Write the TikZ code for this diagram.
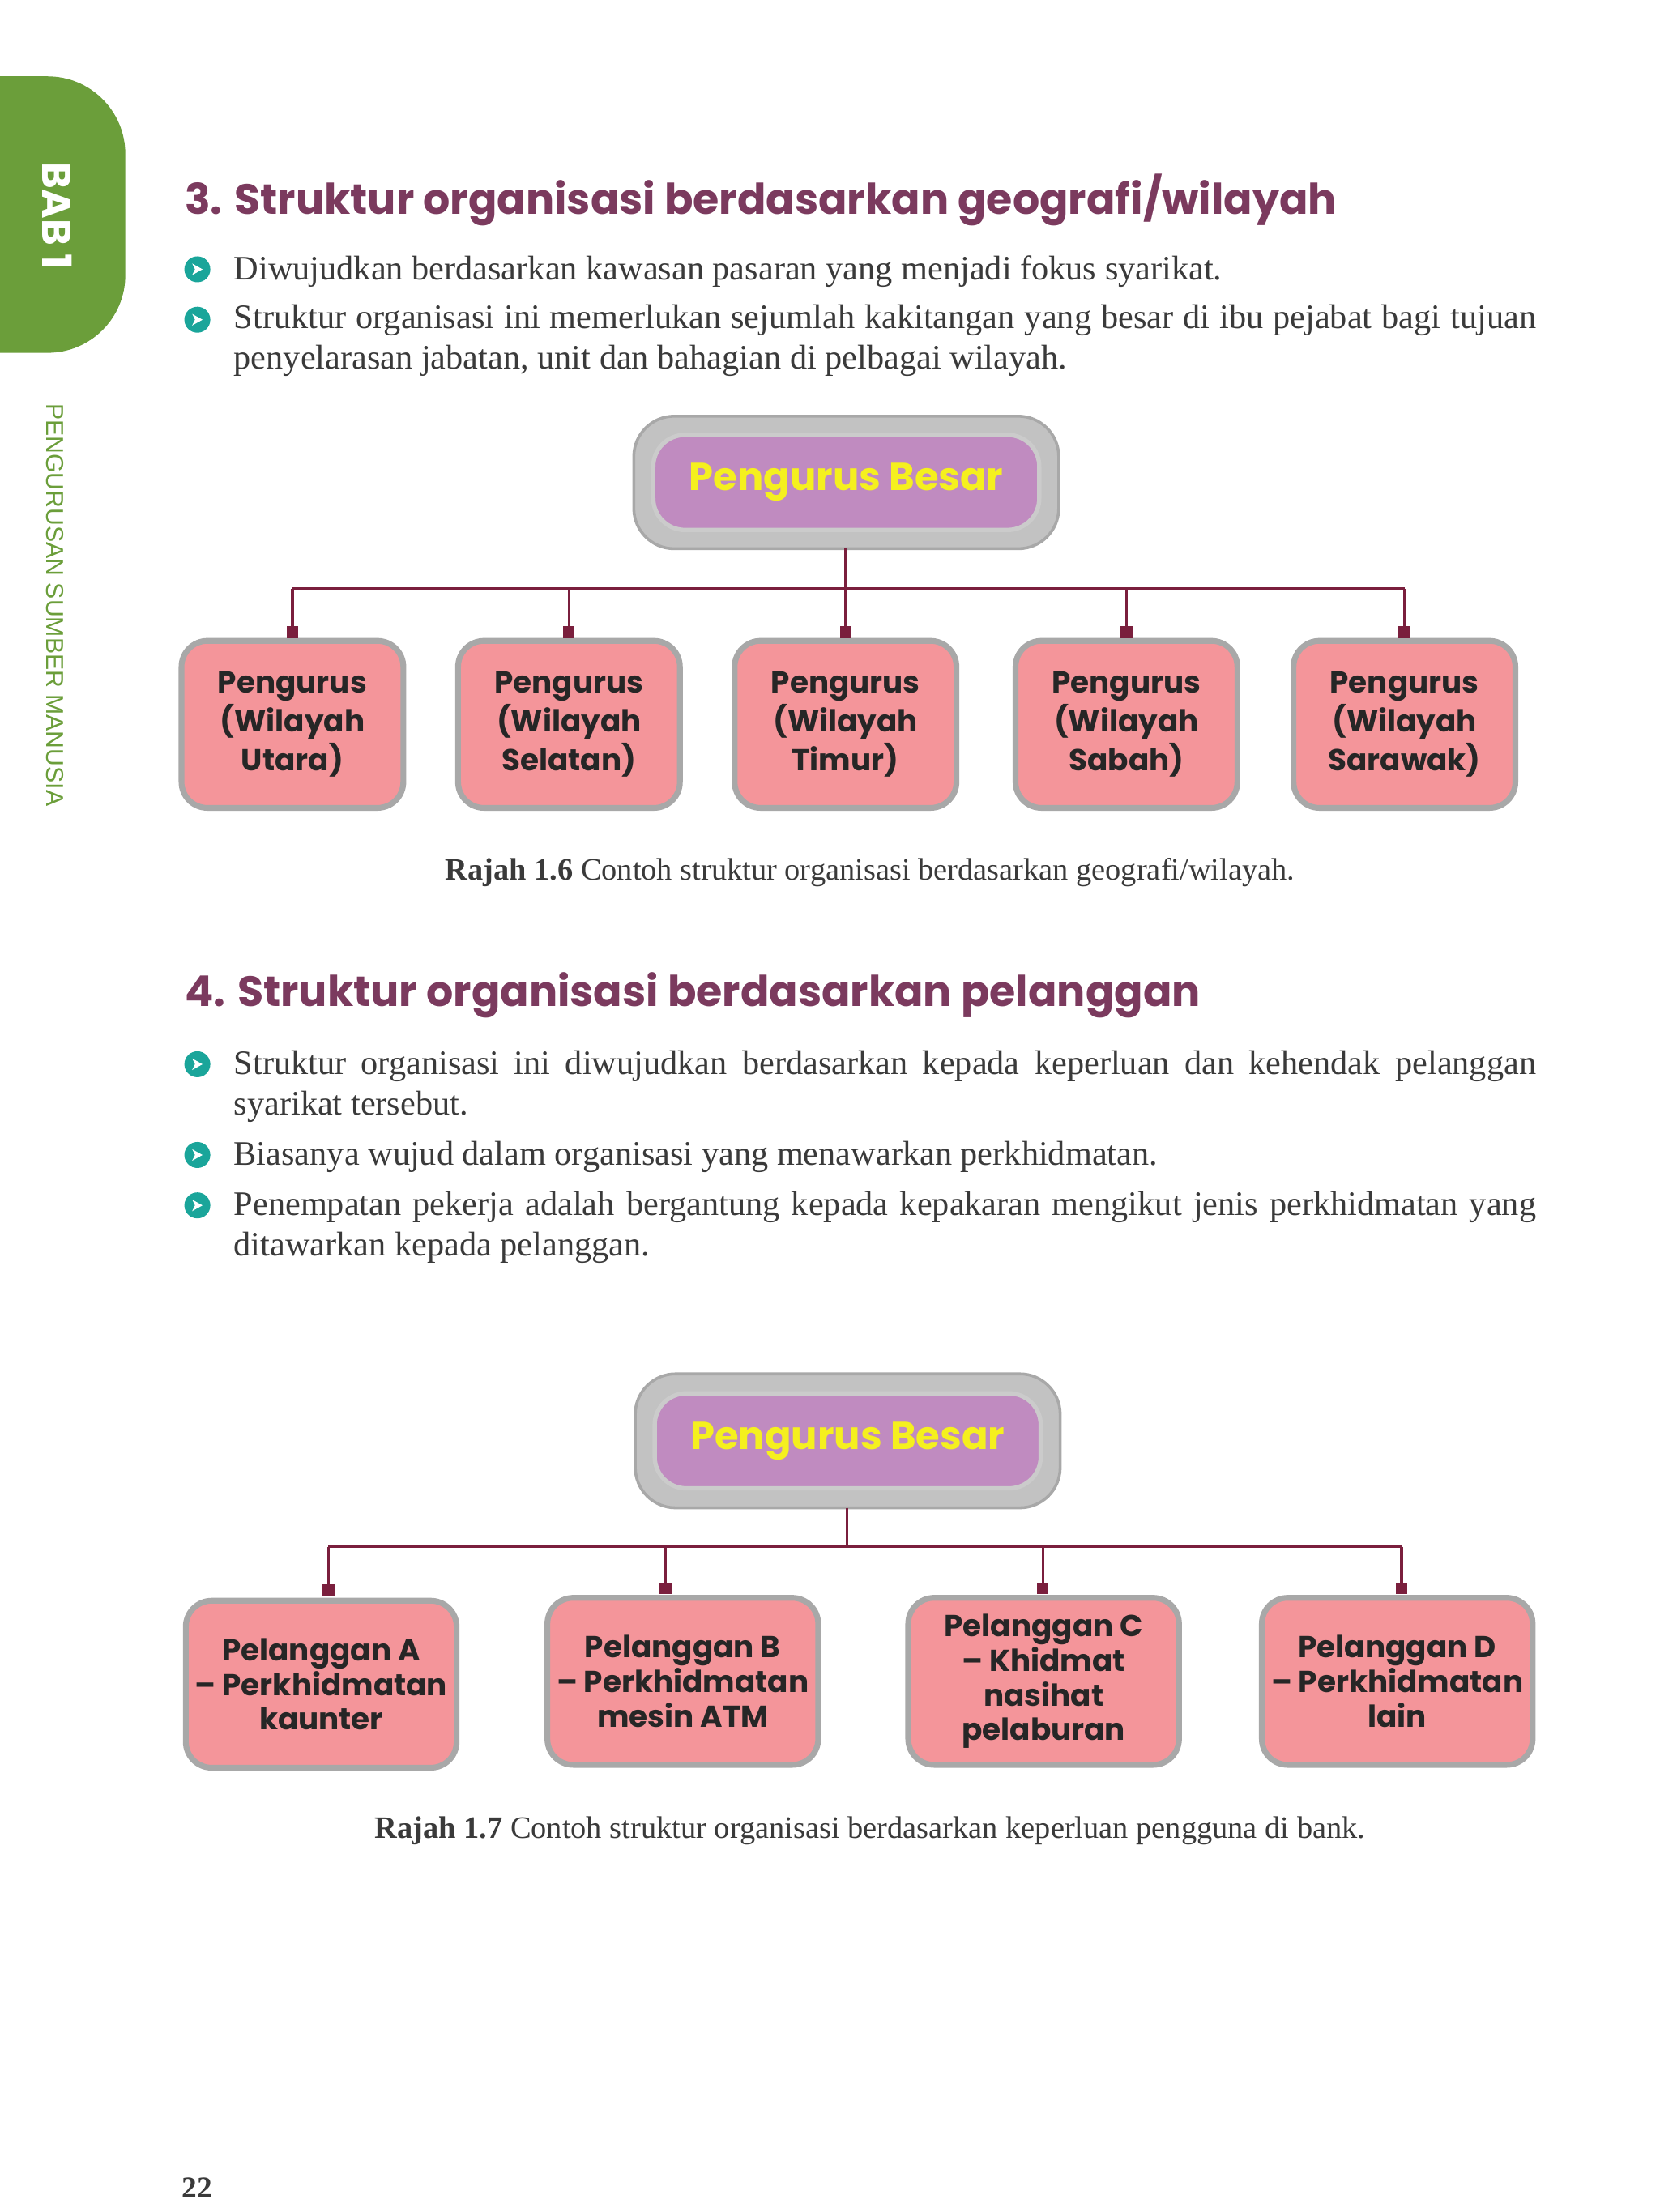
\documentclass[tikz,border=0pt]{standalone}
\usepackage{fontspec}
\setmainfont{Liberation Serif}
\newfontfamily\pop{Poppins}
\newfontfamily\sans{Liberation Sans}
\definecolor{grn}{HTML}{6B9E3A}
\definecolor{plum}{HTML}{7B3A5E}
\definecolor{tl}{HTML}{1AA59A}
\definecolor{pinkb}{HTML}{F4959A}
\definecolor{greyb}{HTML}{A8A8A8}
\definecolor{purp}{HTML}{C08BC0}
\definecolor{yel}{HTML}{F5F01E}
\definecolor{lnc}{HTML}{7A1F3D}
\definecolor{txt}{HTML}{3A3A3A}
\tikzset{
 x=0.5pt,y=-0.5pt,
 head/.style={anchor=west,font=\pop\bfseries\fontsize{14.7}{18}\selectfont,text=plum,inner sep=0},
 btxt/.style={anchor=north west,text width=452pt,align=justify,font=\fontsize{11.9}{14.2}\selectfont,text=txt,inner sep=0},
 bul/.style={circle,fill=tl,minimum size=9pt,inner sep=0},
 pink/.style={draw=greyb,line width=2pt,fill=pinkb,rounded corners=9pt,align=center,font=\pop\bfseries\fontsize{10.5}{12}\selectfont,text=black!85,inner sep=0},
 outer/.style={fill=greyb!70,draw=greyb,rounded corners=14pt,line width=1pt},
 inner/.style={fill=purp,draw=greyb!60,line width=1.5pt,rounded corners=11pt,font=\pop\bfseries\fontsize{13.5}{15}\selectfont,text=yel,inner sep=0},
 ln/.style={draw=lnc,line width=1pt},
 sq/.style={fill=lnc,minimum size=4pt,inner sep=0},
 captxt/.style={font=\fontsize{10.8}{12}\selectfont,text=txt}
}
\newcommand\arr{\tikz\fill[white](0,0)--(3.6pt,2pt)--(0,4pt)--(1pt,2pt)--cycle;}
\begin{document}
\begin{tikzpicture}
\useasboundingbox[fill=white] (0,0) rectangle (1152,1536);
% tab
\fill[grn] (0,53) [rounded corners=27] -- (87,53) -- (87,245) [sharp corners] -- (0,245) -- cycle;
\node[rotate=-90,text=white,font=\pop\bfseries\fontsize{14}{16}\selectfont] (bab) at (40,150) {BAB 1};
\node[rotate=-90,text=grn,font=\sans\fontsize{8.5}{10}\selectfont] (side) at (38,420) {PENGURUSAN SUMBER MANUSIA};
% section 3
\node[head] (h3) at (128,139) {3. Struktur organisasi berdasarkan geografi/wilayah};
\node[bul] (b1) at (137,187) {\arr};
\node[btxt] (t1) at (162,177) {Diwujudkan berdasarkan kawasan pasaran yang menjadi fokus syarikat.};
\node[bul] (b2) at (137,222) {\arr};
\node[btxt] (t2) at (162,211) {Struktur organisasi ini memerlukan sejumlah kakitangan yang besar di ibu pejabat bagi tujuan penyelarasan jabatan, unit dan bahagian di pelbagai wilayah.};
% diagram 1
\draw[outer] (440,289) rectangle (735,381);
\node[inner,minimum width=134pt,minimum height=33pt] (pb1) at (587.5,335) {Pengurus Besar};
\coordinate (pb1b) at (587,381);
\foreach \n/\x/\t in {u/203/{Pengurus\\(Wilayah\\Utara)},s/395/{Pengurus\\(Wilayah\\Selatan)},t/587/{Pengurus\\(Wilayah\\Timur)},sb/782/{Pengurus\\(Wilayah\\Sabah)},sr/975/{Pengurus\\(Wilayah\\Sarawak)}}{
 \node[pink,minimum width=77pt,minimum height=58pt] (\n) at (\x,503) {\t};
 \node[sq] (q\n) at (\x,439) {};
}
\coordinate (j1) at (587,409);
\draw[ln] (pb1b) -- (j1);
\foreach \n in {u,s,t,sb,sr}{\draw[ln] (j1 -| q\n) -- (q\n.center);}
\draw[ln] (j1 -| qu) -- (j1 -| qsr);
\node[captxt] (c1) at (604,606) {\textbf{Rajah 1.6} Contoh struktur organisasi berdasarkan geografi/wilayah.};
% section 4
\node[head] (h4) at (128,691) {4. Struktur organisasi berdasarkan pelanggan};
\node[bul] (b3) at (137,739) {\arr};
\node[btxt] (t3) at (162,729) {Struktur organisasi ini diwujudkan berdasarkan kepada keperluan dan kehendak pelanggan syarikat tersebut.};
\node[bul] (b4) at (137,802) {\arr};
\node[btxt] (t4) at (162,792) {Biasanya wujud dalam organisasi yang menawarkan perkhidmatan.};
\node[bul] (b5) at (137,837) {\arr};
\node[btxt] (t5) at (162,827) {Penempatan pekerja adalah bergantung kepada kepakaran mengikut jenis perkhidmatan yang ditawarkan kepada pelanggan.};
% diagram 2
\draw[outer] (441,954) rectangle (736,1047);
\node[inner,minimum width=134pt,minimum height=33pt] (pb2) at (588.5,1000.5) {Pengurus Besar};
\coordinate (pb2b) at (588,1047);
\node[pink,minimum width=94pt,minimum height=58pt] (pa) at (223,1169.5) {Pelanggan A\\– Perkhidmatan\\kaunter};
\node[pink,minimum width=94pt,minimum height=58pt] (pbb) at (474,1167.5) {Pelanggan B\\– Perkhidmatan\\mesin ATM};
\node[pink,minimum width=94pt,minimum height=58pt] (pc) at (724.5,1167.5) {Pelanggan C\\– Khidmat\\nasihat\\pelaburan};
\node[pink,minimum width=94pt,minimum height=58pt] (pd) at (970,1167.5) {Pelanggan D\\– Perkhidmatan\\lain};
\node[sq] (qa) at (228,1104) {};
\node[sq] (qb) at (462,1103) {};
\node[sq] (qc) at (724,1103) {};
\node[sq] (qd) at (973,1103) {};
\coordinate (j2) at (588,1074);
\draw[ln] (pb2b) -- (j2);
\foreach \n in {a,b,c,d}{\draw[ln] (j2 -| q\n) -- (q\n.center);}
\draw[ln] (j2 -| qa) -- (j2 -| qd);
\node[captxt] (c2) at (604,1271) {\textbf{Rajah 1.7} Contoh struktur organisasi berdasarkan keperluan pengguna di bank.};
\node[anchor=west,font=\bfseries\fontsize{10.5}{12}\selectfont,text=txt,inner sep=0] (pg) at (126,1519) {22};
\end{tikzpicture}
\end{document}
